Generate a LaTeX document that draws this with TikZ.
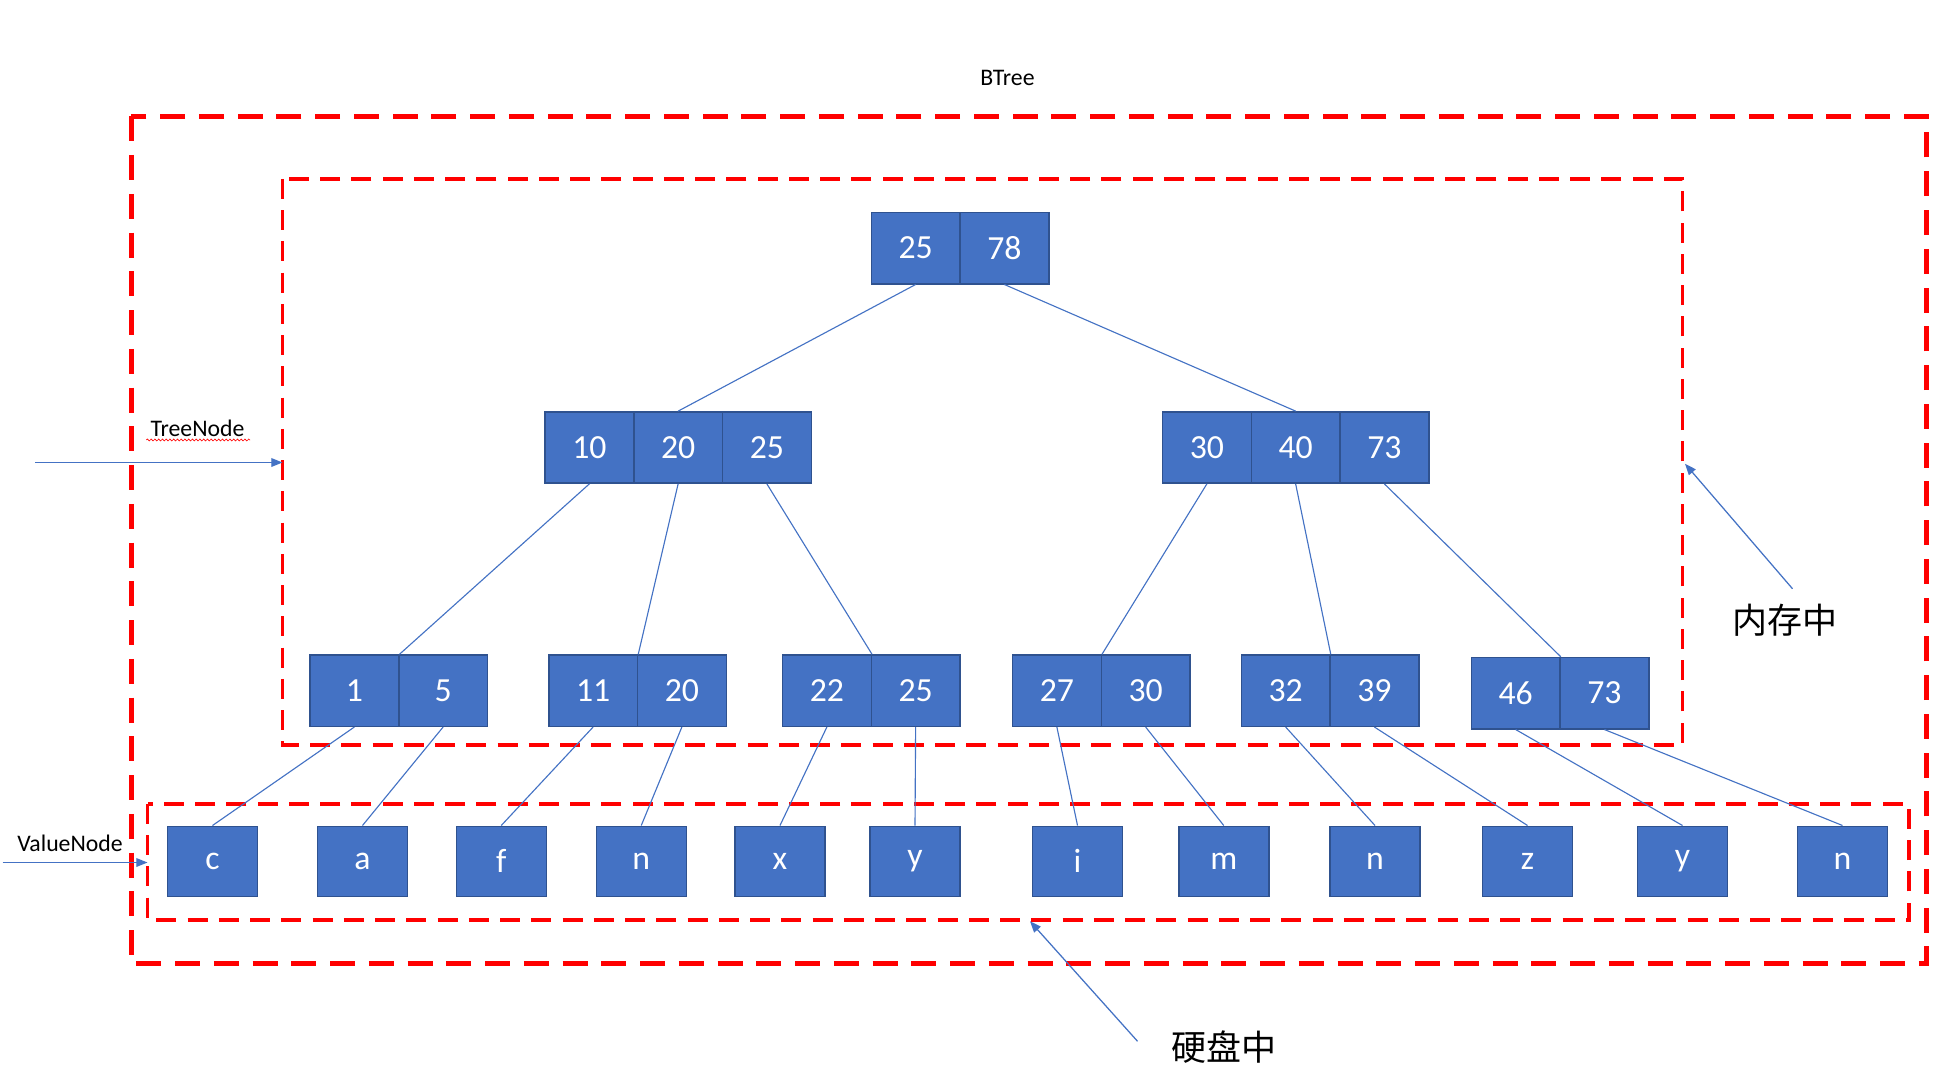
\documentclass[tikz,border=0pt]{standalone}
\usepackage{fontspec}
\setmainfont{Carlito}
\newfontfamily\cjk{Noto Sans CJK SC}
\usetikzlibrary{arrows.meta,decorations.pathmorphing}
\definecolor{cellblue}{HTML}{4472C4}
\definecolor{celledge}{HTML}{2F528F}
\definecolor{redd}{HTML}{FF0000}
\tikzset{
  cell/.style={draw=celledge,fill=cellblue,text=white,line width=1.2pt,minimum width=71pt,minimum height=57pt,inner sep=0pt,font=\fontsize{27}{30}\selectfont},
  edge/.style={draw=cellblue,line width=0.9pt},
  bigbox/.style={draw=redd,line width=4pt,dash pattern=on 20pt off 11pt},
  midbox/.style={draw=redd,line width=3pt,dash pattern=on 16pt off 9pt},
  pointer/.style={draw=cellblue,line width=1pt,-{Triangle[length=9pt,width=7pt]}},
  lbl/.style={font=\fontsize{19}{22}\selectfont,inner sep=0pt},
}
\begin{document}
\begin{tikzpicture}[x=1pt,y=-1pt]
\useasboundingbox[fill=white] (0,0) rectangle (1568,872);
\draw[bigbox] (105,93) rectangle (1541,771);
\draw[midbox] (226,143) rectangle (1346,596);
\draw[midbox] (118,643) rectangle (1527,736);
\node[lbl] (bt) at (806,62) {BTree};
% root
\node[cell] (r1) at (732.5,198.5) {25};
\node[cell] (r2) at (803.5,198.5) {78};
% level 2
\node[cell] (a1) at (471.5,358) {10};
\node[cell] (a2) at (542.5,358) {20};
\node[cell] (a3) at (613.5,358) {25};
\node[cell] (b1) at (965.5,358) {30};
\node[cell] (b2) at (1036.5,358) {40};
\node[cell] (b3) at (1107.5,358) {73};
% leaves
\foreach \n/\x/\y/\t in {l1/283.5/552.5/1, l2/354.5/552.5/5, l3/474.5/552.5/11, l4/545.5/552.5/20,
  l5/661.5/552.5/22, l6/732.5/552.5/25, l7/845.5/552.5/27, l8/916.5/552.5/30,
  l9/1028.5/552.5/32, l10/1099.5/552.5/39, l11/1212.5/554.5/46, l12/1283.5/554.5/73}
  \node[cell] (\n) at (\x,\y) {\t};
% values
\foreach \n/\x/\t in {v1/170/c, v2/290/a, v3/401/f, v4/513/n, v5/624/x, v6/732/y,
  v7/862/i, v8/979/m, v9/1100/n, v10/1222/z, v11/1346/y, v12/1474/n}
  \node[cell,minimum width=72pt,minimum height=56pt] (\n) at (\x,689) {\t};
% edges
\draw[edge] (r1.south) -- (a2.north);
\draw[edge] (r2.south) -- (b2.north);
\draw[edge] (a1.south) -- (l1.north east);
\draw[edge] (a2.south) -- (l3.north east);
\draw[edge] (a3.south) -- (l5.north east);
\draw[edge] (b1.south) -- (l7.north east);
\draw[edge] (b2.south) -- (l9.north east);
\draw[edge] (b3.south) -- (l11.north east);
\foreach \i in {1,...,12} \draw[edge] (l\i.south) -- (v\i.north);
% annotations
\coordinate (tA) at (28,370);
\coordinate (tB) at (226,370);
\draw[pointer] (tA) -- (tB);
\node[lbl] (tn) at (158,343) {TreeNode};
\coordinate (wA) at (117,352);
\coordinate (wB) at (200,352);
\draw[redd,line width=0.5pt,decorate,decoration={snake,amplitude=0.8pt,segment length=3pt}] (wA) -- (wB);
\coordinate (vA) at (2,690);
\coordinate (vB) at (118,690);
\draw[pointer] (vA) -- (vB);
\node[lbl] (vn) at (56,675) {ValueNode};
\node[font=\cjk\fontsize{28}{32}\selectfont,inner sep=0pt] (mem) at (1428,496) {内存中};
\coordinate (mA) at (1434,471);
\coordinate (mB) at (1348,371);
\draw[pointer] (mA) -- (mB);
\node[font=\cjk\fontsize{28}{32}\selectfont,inner sep=0pt] (disk) at (979,838) {硬盘中};
\coordinate (dA) at (910,833);
\coordinate (dB) at (824,737);
\draw[pointer] (dA) -- (dB);
\end{tikzpicture}
\end{document}
